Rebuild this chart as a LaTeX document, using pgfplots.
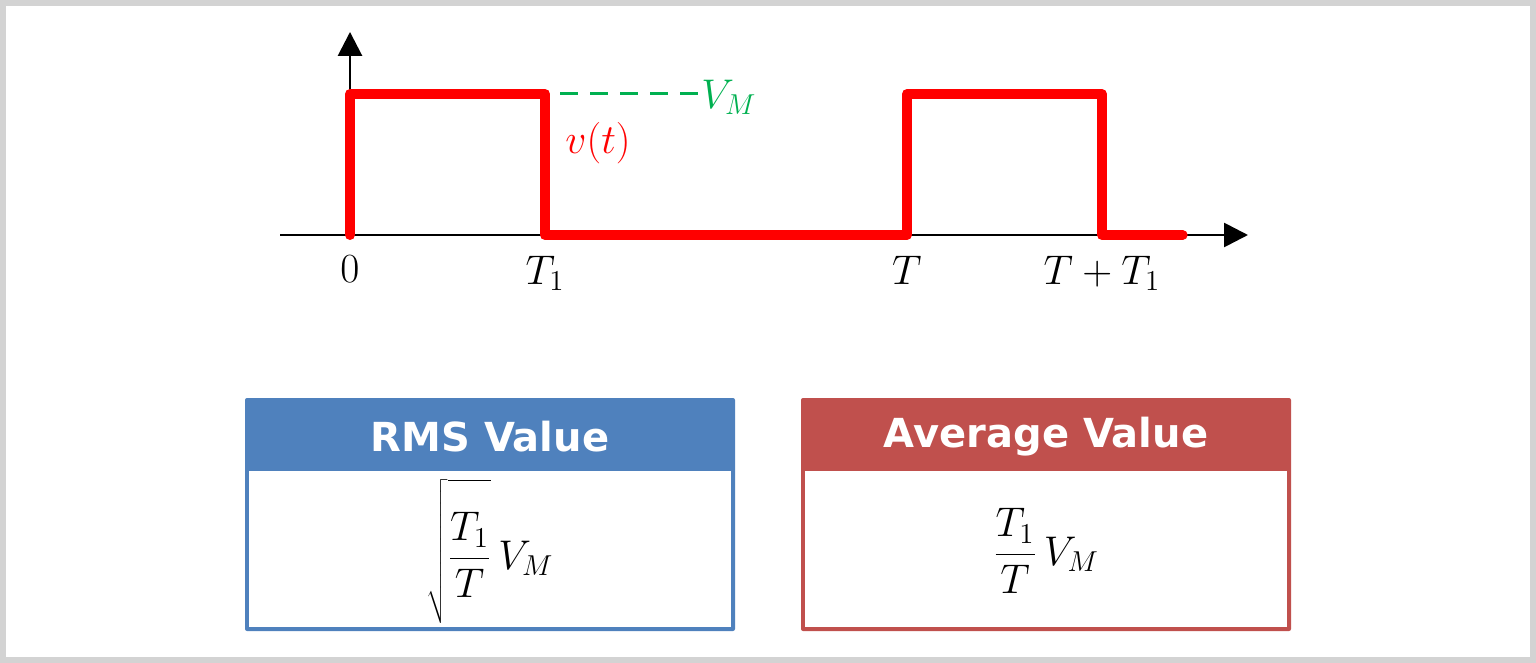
\documentclass[border=0pt]{standalone}
\usepackage{fontspec}
\usepackage{pgfplots}
\pgfplotsset{compat=1.18}
\usetikzlibrary{arrows.meta}
\newfontfamily\hdrfont{DejaVu Sans}
\definecolor{vgreen}{HTML}{00B050}
\definecolor{rmsblue}{HTML}{4F81BD}
\definecolor{avgred}{HTML}{C0504D}
\definecolor{framegray}{HTML}{D3D3D3}
\begin{document}
\begin{tikzpicture}[x=0.5pt,y=0.5pt]
% outer frame
\draw[framegray, line width=3pt] (3,-3) rectangle (1533,-660);
\begin{axis}[
  at={(140pt,-117.5pt)}, anchor=south west,
  x=97.5pt, y=70.5pt,
  xmin=-0.359, xmax=4.605, ymin=0, ymax=1.44,
  axis lines=middle,
  axis line style={line width=1.4pt, -{Triangle[width=12pt,length=12pt]}},
  hide obscured x ticks=false,
  xtick={0,1,2.856,3.856},
  xticklabels={$0$,$T_1$,$T$,$T+T_1$},
  ytick=\empty,
  major tick length=0pt,
  xticklabel style={font=\fontsize{20}{24}\selectfont, anchor=north, yshift=-7pt},
  clip=false,
]
\addplot[red, line width=5pt, line join=round, line cap=round] coordinates {
  (0,0) (0,1) (1,1) (1,0) (2.856,0) (2.856,1) (3.856,1) (3.856,0) (4.27,0)};
\addplot[vgreen, line width=1.5pt, dash pattern=on 9pt off 6pt] coordinates {(1.077,1) (1.795,1)};
\node[anchor=base west, text=vgreen, font=\fontsize{20}{24}\selectfont, inner sep=0pt] at (axis cs:1.80,0.90) {$V_M$};
\node[anchor=base west, text=red, font=\fontsize{20}{24}\selectfont, inner sep=0pt] at (axis cs:1.103,0.58) {$v(t)$};
\end{axis}
% RMS box
\fill[rmsblue, rounded corners=1pt] (245,-398) rectangle (735,-631);
\fill[white] (249,-471) rectangle (731,-627);
\node[text=white, font=\hdrfont\bfseries\fontsize{20}{24}\selectfont] at (490,-437) {RMS Value};
\node[anchor=base, inner sep=0pt, font=\fontsize{22}{26}\selectfont] at (490,-569) {$\displaystyle\sqrt{\rule[-27pt]{0pt}{68pt}\frac{T_1}{T}}\,V_M$};
% Average box
\fill[avgred, rounded corners=1pt] (801,-398) rectangle (1291,-631);
\fill[white] (805,-471) rectangle (1287,-627);
\node[text=white, font=\hdrfont\bfseries\fontsize{20}{24}\selectfont] at (1046,-437) {Average Value};
\node[anchor=base, inner sep=0pt, font=\fontsize{22}{26}\selectfont] at (1046,-565) {$\displaystyle\frac{T_1}{T}\,V_M$};
\pgfresetboundingbox
\path (0,0) rectangle (1536,-663);
\end{tikzpicture}
\end{document}
